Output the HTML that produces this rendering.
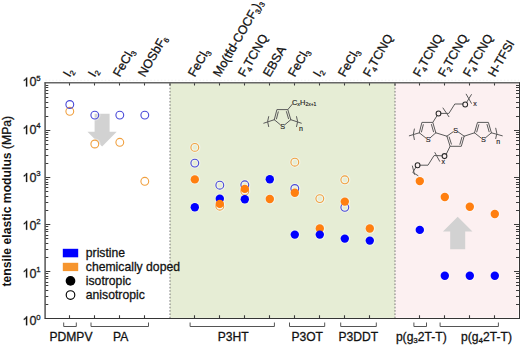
<!DOCTYPE html><html><head><meta charset="utf-8"><style>html,body{margin:0;padding:0;background:#fff;}svg{display:block;}text{font-family:"Liberation Sans",sans-serif;}</style></head><body>
<svg width="522" height="346" viewBox="0 0 522 346">
<rect x="170" y="82.8" width="225" height="235.09999999999997" fill="#e6edd5"/>
<rect x="395" y="82.8" width="123.39999999999998" height="234.89999999999998" fill="#fcf0f1"/>
<line x1="45.3" y1="80.3" x2="519.0" y2="80.3" stroke="#efefef" stroke-width="0.8" stroke-dasharray="1.5 2"/>
<line x1="170" y1="82.8" x2="170" y2="318.3" stroke="#777" stroke-width="1" stroke-dasharray="1.6 1.72" stroke-dashoffset="1.8"/>
<line x1="395" y1="82.8" x2="395" y2="318.3" stroke="#777" stroke-width="1" stroke-dasharray="1.6 1.72" stroke-dashoffset="1.8"/>
<polygon points="94.6,113.8 109.6,113.8 109.6,131.7 116.69999999999999,131.7 102.1,146.4 87.5,131.7 94.6,131.7" fill="#d2d2d2"/>
<polygon points="450.2,249.3 465.2,249.3 465.2,231.5 472.45,231.5 457.7,216.8 442.95,231.5 450.2,231.5" fill="#d2d2d2"/>
<path d="M45.3,304.50h3M519.0,304.50h-3M45.3,296.50h3M519.0,296.50h-3M45.3,290.50h3M519.0,290.50h-3M45.3,285.50h3M519.0,285.50h-3M45.3,282.50h3M519.0,282.50h-3M45.3,278.50h3M519.0,278.50h-3M45.3,276.50h3M519.0,276.50h-3M45.3,273.50h3M519.0,273.50h-3M45.3,271.50h5M519.0,271.50h-5M45.3,257.50h3M519.0,257.50h-3M45.3,249.50h3M519.0,249.50h-3M45.3,243.50h3M519.0,243.50h-3M45.3,238.50h3M519.0,238.50h-3M45.3,235.50h3M519.0,235.50h-3M45.3,231.50h3M519.0,231.50h-3M45.3,229.50h3M519.0,229.50h-3M45.3,226.50h3M519.0,226.50h-3M45.3,224.50h5M519.0,224.50h-5M45.3,210.50h3M519.0,210.50h-3M45.3,202.50h3M519.0,202.50h-3M45.3,196.50h3M519.0,196.50h-3M45.3,191.50h3M519.0,191.50h-3M45.3,187.50h3M519.0,187.50h-3M45.3,184.50h3M519.0,184.50h-3M45.3,182.50h3M519.0,182.50h-3M45.3,179.50h3M519.0,179.50h-3M45.3,177.50h5M519.0,177.50h-5M45.3,163.50h3M519.0,163.50h-3M45.3,155.50h3M519.0,155.50h-3M45.3,149.50h3M519.0,149.50h-3M45.3,144.50h3M519.0,144.50h-3M45.3,140.50h3M519.0,140.50h-3M45.3,137.50h3M519.0,137.50h-3M45.3,134.50h3M519.0,134.50h-3M45.3,132.50h3M519.0,132.50h-3M45.3,130.50h5M519.0,130.50h-5M45.3,116.50h3M519.0,116.50h-3M45.3,107.50h3M519.0,107.50h-3M45.3,102.50h3M519.0,102.50h-3M45.3,97.50h3M519.0,97.50h-3M45.3,93.50h3M519.0,93.50h-3M45.3,90.50h3M519.0,90.50h-3M45.3,87.50h3M519.0,87.50h-3M45.3,85.50h3M519.0,85.50h-3M69.5,82.8v2.8M69.5,318.3v-3M94.5,82.8v2.8M94.5,318.3v-3M119.5,82.8v2.8M119.5,318.3v-3M144.5,82.8v2.8M144.5,318.3v-3M194.5,82.8v2.8M194.5,318.3v-3M219.5,82.8v2.8M219.5,318.3v-3M244.5,82.8v2.8M244.5,318.3v-3M269.5,82.8v2.8M269.5,318.3v-3M294.5,82.8v2.8M294.5,318.3v-3M319.5,82.8v2.8M319.5,318.3v-3M344.5,82.8v2.8M344.5,318.3v-3M369.5,82.8v2.8M369.5,318.3v-3M419.5,82.8v2.8M419.5,318.3v-3M444.5,82.8v2.8M444.5,318.3v-3M469.5,82.8v2.8M469.5,318.3v-3M494.5,82.8v2.8M494.5,318.3v-3M170,82.8v2.8M395,82.8v2.8" stroke="#3c3c3c" stroke-width="1.1" fill="none"/>
<path d="M44.599999999999994,82.7H519.5" stroke="#666" stroke-width="1.5"/>
<path d="M45.1,82.2V318.8" stroke="#555" stroke-width="1.5"/>
<path d="M519.5,82.2V318.90000000000003" stroke="#353535" stroke-width="1.05"/>
<path d="M44.699999999999996,318.5H520.0" stroke="#353535" stroke-width="1.1"/>
<circle cx="70" cy="111.3" r="3.9" fill="none" stroke="#fff" stroke-opacity="0.45" stroke-width="3.2"/><circle cx="70" cy="104.5" r="3.9" fill="none" stroke="#fff" stroke-opacity="0.45" stroke-width="3.2"/><circle cx="95" cy="115.1" r="3.9" fill="none" stroke="#fff" stroke-opacity="0.45" stroke-width="3.2"/><circle cx="95" cy="144" r="3.9" fill="none" stroke="#fff" stroke-opacity="0.45" stroke-width="3.2"/><circle cx="120" cy="115.1" r="3.9" fill="none" stroke="#fff" stroke-opacity="0.45" stroke-width="3.2"/><circle cx="120" cy="142.3" r="3.9" fill="none" stroke="#fff" stroke-opacity="0.45" stroke-width="3.2"/><circle cx="145" cy="115.1" r="3.9" fill="none" stroke="#fff" stroke-opacity="0.45" stroke-width="3.2"/><circle cx="145" cy="181.3" r="3.9" fill="none" stroke="#fff" stroke-opacity="0.45" stroke-width="3.2"/><circle cx="195" cy="147.4" r="3.9" fill="none" stroke="#fff" stroke-opacity="0.45" stroke-width="3.2"/><circle cx="195" cy="163.1" r="3.9" fill="none" stroke="#fff" stroke-opacity="0.45" stroke-width="3.2"/><circle cx="220" cy="185.2" r="3.9" fill="none" stroke="#fff" stroke-opacity="0.45" stroke-width="3.2"/><circle cx="220" cy="206.2" r="3.9" fill="none" stroke="#fff" stroke-opacity="0.45" stroke-width="3.2"/><circle cx="245" cy="184.8" r="3.9" fill="none" stroke="#fff" stroke-opacity="0.45" stroke-width="3.2"/><circle cx="245" cy="191.2" r="3.9" fill="none" stroke="#fff" stroke-opacity="0.45" stroke-width="3.2"/><circle cx="295" cy="162.2" r="3.9" fill="none" stroke="#fff" stroke-opacity="0.45" stroke-width="3.2"/><circle cx="295" cy="188.5" r="3.9" fill="none" stroke="#fff" stroke-opacity="0.45" stroke-width="3.2"/><circle cx="320" cy="198.6" r="3.9" fill="none" stroke="#fff" stroke-opacity="0.45" stroke-width="3.2"/><circle cx="345" cy="179.8" r="3.9" fill="none" stroke="#fff" stroke-opacity="0.45" stroke-width="3.2"/><circle cx="345" cy="207.3" r="3.9" fill="none" stroke="#fff" stroke-opacity="0.45" stroke-width="3.2"/><circle cx="195" cy="179.4" r="5.2" fill="#fff" fill-opacity="0.45"/><circle cx="195" cy="207.3" r="5.2" fill="#fff" fill-opacity="0.45"/><circle cx="220" cy="198.7" r="5.2" fill="#fff" fill-opacity="0.45"/><circle cx="220" cy="203.9" r="5.2" fill="#fff" fill-opacity="0.45"/><circle cx="245" cy="188.9" r="5.2" fill="#fff" fill-opacity="0.45"/><circle cx="245" cy="199.3" r="5.2" fill="#fff" fill-opacity="0.45"/><circle cx="270" cy="179.4" r="5.2" fill="#fff" fill-opacity="0.45"/><circle cx="270" cy="199" r="5.2" fill="#fff" fill-opacity="0.45"/><circle cx="295" cy="192.7" r="5.2" fill="#fff" fill-opacity="0.45"/><circle cx="295" cy="234.6" r="5.2" fill="#fff" fill-opacity="0.45"/><circle cx="320" cy="228.5" r="5.2" fill="#fff" fill-opacity="0.45"/><circle cx="320" cy="234.6" r="5.2" fill="#fff" fill-opacity="0.45"/><circle cx="345" cy="201.6" r="5.2" fill="#fff" fill-opacity="0.45"/><circle cx="345" cy="238.6" r="5.2" fill="#fff" fill-opacity="0.45"/><circle cx="370" cy="228.5" r="5.2" fill="#fff" fill-opacity="0.45"/><circle cx="370" cy="240.6" r="5.2" fill="#fff" fill-opacity="0.45"/><circle cx="420" cy="181.1" r="5.2" fill="#fff" fill-opacity="0.45"/><circle cx="420" cy="229.9" r="5.2" fill="#fff" fill-opacity="0.45"/><circle cx="445" cy="197" r="5.2" fill="#fff" fill-opacity="0.45"/><circle cx="445" cy="275.7" r="5.2" fill="#fff" fill-opacity="0.45"/><circle cx="470" cy="206.7" r="5.2" fill="#fff" fill-opacity="0.45"/><circle cx="470" cy="275.7" r="5.2" fill="#fff" fill-opacity="0.45"/><circle cx="495" cy="214" r="5.2" fill="#fff" fill-opacity="0.45"/><circle cx="495" cy="275.7" r="5.2" fill="#fff" fill-opacity="0.45"/>
<circle cx="69.8" cy="111.3" r="3.9" fill="none" stroke="#f0a040" stroke-width="1.1"/>
<circle cx="69.8" cy="104.5" r="3.9" fill="none" stroke="#4a4ad8" stroke-width="1.1"/>
<circle cx="94.8" cy="115.1" r="3.9" fill="none" stroke="#4a4ad8" stroke-width="1.1"/>
<circle cx="94.8" cy="144" r="3.9" fill="none" stroke="#f0a040" stroke-width="1.1"/>
<circle cx="119.8" cy="115.1" r="3.9" fill="none" stroke="#4a4ad8" stroke-width="1.1"/>
<circle cx="119.8" cy="142.3" r="3.9" fill="none" stroke="#f0a040" stroke-width="1.1"/>
<circle cx="144.8" cy="115.1" r="3.9" fill="none" stroke="#4a4ad8" stroke-width="1.1"/>
<circle cx="144.8" cy="181.3" r="3.9" fill="none" stroke="#f0a040" stroke-width="1.1"/>
<circle cx="194.8" cy="147.4" r="3.9" fill="none" stroke="#f0a040" stroke-width="1.1"/>
<circle cx="194.8" cy="163.1" r="3.9" fill="none" stroke="#4a4ad8" stroke-width="1.1"/>
<circle cx="219.8" cy="185.2" r="3.9" fill="none" stroke="#4a4ad8" stroke-width="1.1"/>
<circle cx="219.8" cy="206.2" r="3.9" fill="none" stroke="#f0a040" stroke-width="1.1"/>
<circle cx="244.8" cy="184.8" r="3.9" fill="none" stroke="#4a4ad8" stroke-width="1.1"/>
<circle cx="244.8" cy="191.2" r="3.9" fill="none" stroke="#f0a040" stroke-width="1.1"/>
<circle cx="294.8" cy="162.2" r="3.9" fill="none" stroke="#f0a040" stroke-width="1.1"/>
<circle cx="294.8" cy="188.5" r="3.9" fill="none" stroke="#4a4ad8" stroke-width="1.1"/>
<circle cx="319.8" cy="198.6" r="3.9" fill="none" stroke="#f0a040" stroke-width="1.1"/>
<circle cx="344.8" cy="179.8" r="3.9" fill="none" stroke="#f0a040" stroke-width="1.1"/>
<circle cx="344.8" cy="207.3" r="3.9" fill="none" stroke="#4a4ad8" stroke-width="1.1"/>
<circle cx="194.8" cy="179.4" r="4.2" fill="#ff7f10"/>
<circle cx="194.8" cy="207.3" r="4.2" fill="#0000ff"/>
<circle cx="219.8" cy="198.7" r="4.2" fill="#0000ff"/>
<circle cx="219.8" cy="203.9" r="4.2" fill="#ff7f10"/>
<circle cx="244.8" cy="188.9" r="4.2" fill="#ff7f10"/>
<circle cx="244.8" cy="199.3" r="4.2" fill="#0000ff"/>
<circle cx="269.8" cy="179.3" r="4.2" fill="#0000ff"/>
<circle cx="269.8" cy="199" r="4.2" fill="#ff7f10"/>
<circle cx="294.8" cy="192.7" r="4.2" fill="#ff7f10"/>
<circle cx="294.8" cy="234.6" r="4.2" fill="#0000ff"/>
<circle cx="319.8" cy="228.5" r="4.2" fill="#ff7f10"/>
<circle cx="319.8" cy="234.6" r="4.2" fill="#0000ff"/>
<circle cx="344.8" cy="201.6" r="4.2" fill="#ff7f10"/>
<circle cx="344.8" cy="238.6" r="4.2" fill="#0000ff"/>
<circle cx="369.8" cy="228.5" r="4.2" fill="#ff7f10"/>
<circle cx="369.8" cy="240.6" r="4.2" fill="#0000ff"/>
<circle cx="419.8" cy="181.1" r="4.2" fill="#ff7f10"/>
<circle cx="419.8" cy="229.9" r="4.2" fill="#0000ff"/>
<circle cx="444.8" cy="197" r="4.2" fill="#ff7f10"/>
<circle cx="444.8" cy="275.7" r="4.2" fill="#0000ff"/>
<circle cx="469.8" cy="206.7" r="4.2" fill="#ff7f10"/>
<circle cx="469.8" cy="275.7" r="4.2" fill="#0000ff"/>
<circle cx="494.8" cy="214" r="4.2" fill="#ff7f10"/>
<circle cx="494.8" cy="275.7" r="4.2" fill="#0000ff"/>
<text x="22.45" y="325.30" font-size="12.5" fill="#1a1a1a" stroke="#1a1a1a" stroke-width="0.28"><tspan fill="transparent" stroke="none">1</tspan>0<tspan dy="-5.8" font-size="7.8">0</tspan></text>
<path d="M27.21,325.30V316.30H26.31C25.91,317.40 25.01,318.20 23.81,318.70V320.00C24.71,319.60 25.41,319.10 25.96,318.40V325.30Z" fill="#1a1a1a" stroke="#1a1a1a" stroke-width="0.2"/>
<text x="22.45" y="277.52" font-size="12.5" fill="#1a1a1a" stroke="#1a1a1a" stroke-width="0.28"><tspan fill="transparent" stroke="none">1</tspan>0<tspan dy="-5.8" font-size="7.8">1</tspan></text>
<path d="M27.21,277.52V268.52H26.31C25.91,269.62 25.01,270.42 23.81,270.92V272.22C24.71,271.82 25.41,271.32 25.96,270.62V277.52Z" fill="#1a1a1a" stroke="#1a1a1a" stroke-width="0.2"/>
<text x="22.45" y="229.74" font-size="12.5" fill="#1a1a1a" stroke="#1a1a1a" stroke-width="0.28"><tspan fill="transparent" stroke="none">1</tspan>0<tspan dy="-5.8" font-size="7.8">2</tspan></text>
<path d="M27.21,229.74V220.74H26.31C25.91,221.84 25.01,222.64 23.81,223.14V224.44C24.71,224.04 25.41,223.54 25.96,222.84V229.74Z" fill="#1a1a1a" stroke="#1a1a1a" stroke-width="0.2"/>
<text x="22.45" y="181.96" font-size="12.5" fill="#1a1a1a" stroke="#1a1a1a" stroke-width="0.28"><tspan fill="transparent" stroke="none">1</tspan>0<tspan dy="-5.8" font-size="7.8">3</tspan></text>
<path d="M27.21,181.96V172.96H26.31C25.91,174.06 25.01,174.86 23.81,175.36V176.66C24.71,176.26 25.41,175.76 25.96,175.06V181.96Z" fill="#1a1a1a" stroke="#1a1a1a" stroke-width="0.2"/>
<text x="22.45" y="134.18" font-size="12.5" fill="#1a1a1a" stroke="#1a1a1a" stroke-width="0.28"><tspan fill="transparent" stroke="none">1</tspan>0<tspan dy="-5.8" font-size="7.8">4</tspan></text>
<path d="M27.21,134.18V125.18H26.31C25.91,126.28 25.01,127.08 23.81,127.58V128.88C24.71,128.48 25.41,127.98 25.96,127.28V134.18Z" fill="#1a1a1a" stroke="#1a1a1a" stroke-width="0.2"/>
<text x="22.45" y="86.40" font-size="12.5" fill="#1a1a1a" stroke="#1a1a1a" stroke-width="0.28"><tspan fill="transparent" stroke="none">1</tspan>0<tspan dy="-5.8" font-size="7.8">5</tspan></text>
<path d="M27.21,86.40V77.40H26.31C25.91,78.50 25.01,79.30 23.81,79.80V81.10C24.71,80.70 25.41,80.20 25.96,79.50V86.40Z" fill="#1a1a1a" stroke="#1a1a1a" stroke-width="0.2"/>
<text transform="translate(11,286.5) rotate(-90)" font-size="12.2" fill="#111"><tspan font-weight="bold">tensile elastic modulus </tspan><tspan stroke="#111" stroke-width="0.28">(MPa)</tspan></text>
<text transform="translate(69.8,77.8) rotate(-60)" font-size="12.4" fill="#111" stroke="#111" stroke-width="0.28">I<tspan font-size="7.5" dy="2.5">2</tspan></text>
<text transform="translate(94.8,77.8) rotate(-60)" font-size="12.4" fill="#111" stroke="#111" stroke-width="0.28">I<tspan font-size="7.5" dy="2.5">2</tspan></text>
<text transform="translate(119.8,77.8) rotate(-60)" font-size="12.4" fill="#111" stroke="#111" stroke-width="0.28">FeCl<tspan font-size="7.5" dy="2.5">3</tspan></text>
<text transform="translate(144.8,77.8) rotate(-60)" font-size="12.4" fill="#111" stroke="#111" stroke-width="0.28">NOSbF<tspan font-size="7.5" dy="2.5">6</tspan></text>
<text transform="translate(194.8,77.8) rotate(-60)" font-size="12.4" fill="#111" stroke="#111" stroke-width="0.28">FeCl<tspan font-size="7.5" dy="2.5">3</tspan></text>
<text transform="translate(219.8,77.8) rotate(-60)" font-size="12.4" fill="#111" stroke="#111" stroke-width="0.28">Mo(tfd-COCF<tspan font-size="7.5" dy="2.5">3</tspan><tspan dy="-2.5">)</tspan><tspan font-size="7.5" dy="2.5">3</tspan></text>
<text transform="translate(244.8,77.8) rotate(-60)" font-size="12.4" fill="#111" stroke="#111" stroke-width="0.28">F<tspan font-size="7.5" dy="2.5">4</tspan><tspan dy="-2.5">TCNQ</tspan></text>
<text transform="translate(269.8,77.8) rotate(-60)" font-size="12.4" fill="#111" stroke="#111" stroke-width="0.28">EBSA</text>
<text transform="translate(294.8,77.8) rotate(-60)" font-size="12.4" fill="#111" stroke="#111" stroke-width="0.28">FeCl<tspan font-size="7.5" dy="2.5">3</tspan></text>
<text transform="translate(319.8,77.8) rotate(-60)" font-size="12.4" fill="#111" stroke="#111" stroke-width="0.28">I<tspan font-size="7.5" dy="2.5">2</tspan></text>
<text transform="translate(344.8,77.8) rotate(-60)" font-size="12.4" fill="#111" stroke="#111" stroke-width="0.28">FeCl<tspan font-size="7.5" dy="2.5">3</tspan></text>
<text transform="translate(369.8,77.8) rotate(-60)" font-size="12.4" fill="#111" stroke="#111" stroke-width="0.28">F<tspan font-size="7.5" dy="2.5">4</tspan><tspan dy="-2.5">TCNQ</tspan></text>
<text transform="translate(419.8,77.8) rotate(-60)" font-size="12.4" fill="#111" stroke="#111" stroke-width="0.28">F<tspan font-size="7.5" dy="2.5">4</tspan><tspan dy="-2.5">TCNQ</tspan></text>
<text transform="translate(444.8,77.8) rotate(-60)" font-size="12.4" fill="#111" stroke="#111" stroke-width="0.28">F<tspan font-size="7.5" dy="2.5">2</tspan><tspan dy="-2.5">TCNQ</tspan></text>
<text transform="translate(469.8,77.8) rotate(-60)" font-size="12.4" fill="#111" stroke="#111" stroke-width="0.28">F<tspan font-size="7.5" dy="2.5">4</tspan><tspan dy="-2.5">TCNQ</tspan></text>
<text transform="translate(494.8,77.8) rotate(-60)" font-size="12.4" fill="#111" stroke="#111" stroke-width="0.28">H-TFSI</text>
<rect x="62.8" y="248.8" width="15.4" height="8.5" fill="#0000ff"/>
<rect x="62.8" y="262.8" width="15.4" height="8.3" fill="#f6952e"/>
<circle cx="70.5" cy="280.9" r="4.85" fill="#000"/>
<circle cx="70.5" cy="295.05" r="4.3" fill="none" stroke="#000" stroke-width="1.15"/>
<text x="85.8" y="257.4" font-size="12.2" fill="#111" stroke="#111" stroke-width="0.28">pristine</text>
<text x="85.8" y="271.1" font-size="12.2" fill="#111" stroke="#111" stroke-width="0.28">chemically doped</text>
<text x="85.8" y="284.8" font-size="12.2" fill="#111" stroke="#111" stroke-width="0.28">isotropic</text>
<text x="85.8" y="298.5" font-size="12.2" fill="#111" stroke="#111" stroke-width="0.28">anisotropic</text>
<path d="M63.7,322.5V326.5H76.3V322.5M91,322.5V326.5H148.5V322.5M190.1,322.5V326.5H274.4V322.5M289.5,322.5V326.5H324.7V322.5M340.7,322.5V326.5H376.3V322.5M413.9,322.5V326.5H426.5V322.5M440.1,322.5V326.5H498.4V322.5" stroke="#555" stroke-width="1" fill="none"/>
<text x="71" y="340.5" font-size="12.1" text-anchor="middle" fill="#111" stroke="#111" stroke-width="0.28">PDMPV</text>
<text x="120.6" y="340.5" font-size="12.1" text-anchor="middle" fill="#111" stroke="#111" stroke-width="0.28">PA</text>
<text x="233.2" y="340.5" font-size="12.1" text-anchor="middle" fill="#111" stroke="#111" stroke-width="0.28">P3HT</text>
<text x="307.2" y="340.5" font-size="12.1" text-anchor="middle" fill="#111" stroke="#111" stroke-width="0.28">P3OT</text>
<text x="358.3" y="340.5" font-size="12.1" text-anchor="middle" fill="#111" stroke="#111" stroke-width="0.28">P3DDT</text>
<text x="421.3" y="340.5" font-size="12.1" text-anchor="middle" fill="#111" stroke="#111" stroke-width="0.28">p(g<tspan font-size="8" dy="2">3</tspan><tspan dy="-2">2T-T)</tspan></text>
<text x="486.5" y="340.5" font-size="12.1" text-anchor="middle" fill="#111" stroke="#111" stroke-width="0.28">p(g<tspan font-size="8" dy="2">4</tspan><tspan dy="-2">2T-T)</tspan></text>
<path d="M274.30,119.70L276.90,109.60L287.80,109.60L290.80,119.70M274.30,119.70L280.37,124.75M290.80,119.70L284.82,124.73M276.46,118.91L278.28,111.84M286.43,111.64L288.53,118.71" stroke="#5a5a5a" stroke-width="1.0" fill="none" stroke-linecap="round" stroke-linejoin="round"/>
<text x="282.70000000000005" y="129.2" font-size="7.2" text-anchor="middle" font-weight="normal" fill="#1e1e1e" stroke="#1e1e1e" stroke-width="0.15">S</text>
<path d="M287.8,109.6L292.3,104.2 M274.3,119.7L263.8,123.2 M290.8,119.7L301.3,123.2" stroke="#5a5a5a" stroke-width="1.0" fill="none" stroke-linecap="round" stroke-linejoin="round"/>
<path d="M268.6,116.6Q266.4,121.6 268.6,126.6 M296.6,116.6Q298.8,121.6 296.6,126.6" stroke="#5a5a5a" stroke-width="1.0" fill="none" stroke-linecap="round" stroke-linejoin="round"/>
<text x="292.0" y="104.8" font-size="7.4" text-anchor="start" font-weight="normal" fill="#1e1e1e" stroke="#1e1e1e" stroke-width="0.15">C<tspan font-size="5.4" dy="1.3">x</tspan><tspan dy="-1.3">H</tspan><tspan font-size="5.0" dy="1.3">2x+1</tspan></text>
<text x="300.9" y="131.2" font-size="7" text-anchor="middle" font-weight="normal" fill="#1e1e1e" stroke="#1e1e1e" stroke-width="0.15">n</text>
<path d="M419.30,132.80L421.90,122.40L432.80,122.40L435.80,132.80M419.30,132.80L425.73,137.90M435.80,132.80L430.17,137.78M421.46,131.97L423.28,124.69M431.43,124.50L433.53,131.78" stroke="#5a5a5a" stroke-width="1.0" fill="none" stroke-linecap="round" stroke-linejoin="round"/>
<text x="428.1" y="142.29999999999998" font-size="7.2" text-anchor="middle" font-weight="normal" fill="#1e1e1e" stroke="#1e1e1e" stroke-width="0.15">S</text>
<path d="M446.90,136.20L450.10,146.30L461.30,146.30L464.20,136.20M446.90,136.20L453.13,131.78M464.20,136.20L457.87,131.76M449.16,137.04L451.40,144.11M459.89,144.32L461.92,137.25" stroke="#5a5a5a" stroke-width="1.0" fill="none" stroke-linecap="round" stroke-linejoin="round"/>
<text x="455.6" y="132.7" font-size="7.2" text-anchor="middle" font-weight="normal" fill="#1e1e1e" stroke="#1e1e1e" stroke-width="0.15">S</text>
<path d="M474.50,132.80L477.50,122.40L488.40,122.40L491.40,132.80M474.50,132.80L480.93,137.90M491.40,132.80L485.42,137.83M476.72,131.96L478.82,124.68M487.03,124.48L489.13,131.76" stroke="#5a5a5a" stroke-width="1.0" fill="none" stroke-linecap="round" stroke-linejoin="round"/>
<text x="483.3" y="142.29999999999998" font-size="7.2" text-anchor="middle" font-weight="normal" fill="#1e1e1e" stroke="#1e1e1e" stroke-width="0.15">S</text>
<path d="M419.3,132.8L409.3,135.8 M435.8,132.8L446.9,136.2 M464.2,136.2L474.5,132.8 M491.4,132.8L502.3,135.8" stroke="#5a5a5a" stroke-width="1.0" fill="none" stroke-linecap="round" stroke-linejoin="round"/>
<path d="M414.3,129.0Q412.3,134.2 414.3,139.6 M495.8,128.2Q498.0,133.4 495.8,138.6" stroke="#5a5a5a" stroke-width="1.0" fill="none" stroke-linecap="round" stroke-linejoin="round"/>
<text x="498.1" y="143.5" font-size="7" text-anchor="middle" font-weight="normal" fill="#1e1e1e" stroke="#1e1e1e" stroke-width="0.15">n</text>
<path d="M432.8,122.4L436.9,115.9 M440.8,113.4L448.9,113.4L454.8,104.0L462.9,104.0 M466.6,102.4L471.4,94.6 M443.0,108.0L448.9,116.7 M466.2,94.2L471.4,103.3" stroke="#5a5a5a" stroke-width="1.0" fill="none" stroke-linecap="round" stroke-linejoin="round"/>
<ellipse cx="438.5" cy="113.4" rx="2.4" ry="2.5" fill="none" stroke="#2a2a2a" stroke-width="1.05"/>
<ellipse cx="465.2" cy="104.5" rx="2.4" ry="2.5" fill="none" stroke="#2a2a2a" stroke-width="1.05"/>
<text x="474.9" y="106.3" font-size="7" text-anchor="middle" font-weight="normal" fill="#1e1e1e" stroke="#1e1e1e" stroke-width="0.15">x</text>
<path d="M450.1,146.3L446.4,153.9 M442.2,155.9L438,155.6L434,155.6L428,165.2L419.9,165.2 M415.8,167.3L412.8,172.5L418,175.6 M434.9,152.6L439.7,161.3 M412.4,166L414.5,174.3" stroke="#5a5a5a" stroke-width="1.0" fill="none" stroke-linecap="round" stroke-linejoin="round"/>
<ellipse cx="444.5" cy="156.1" rx="2.4" ry="2.5" fill="none" stroke="#2a2a2a" stroke-width="1.05"/>
<ellipse cx="417.6" cy="165.2" rx="2.4" ry="2.5" fill="none" stroke="#2a2a2a" stroke-width="1.05"/>
<text x="443.3" y="164.0" font-size="7" text-anchor="middle" font-weight="normal" fill="#1e1e1e" stroke="#1e1e1e" stroke-width="0.15">x</text>
</svg></body></html>
